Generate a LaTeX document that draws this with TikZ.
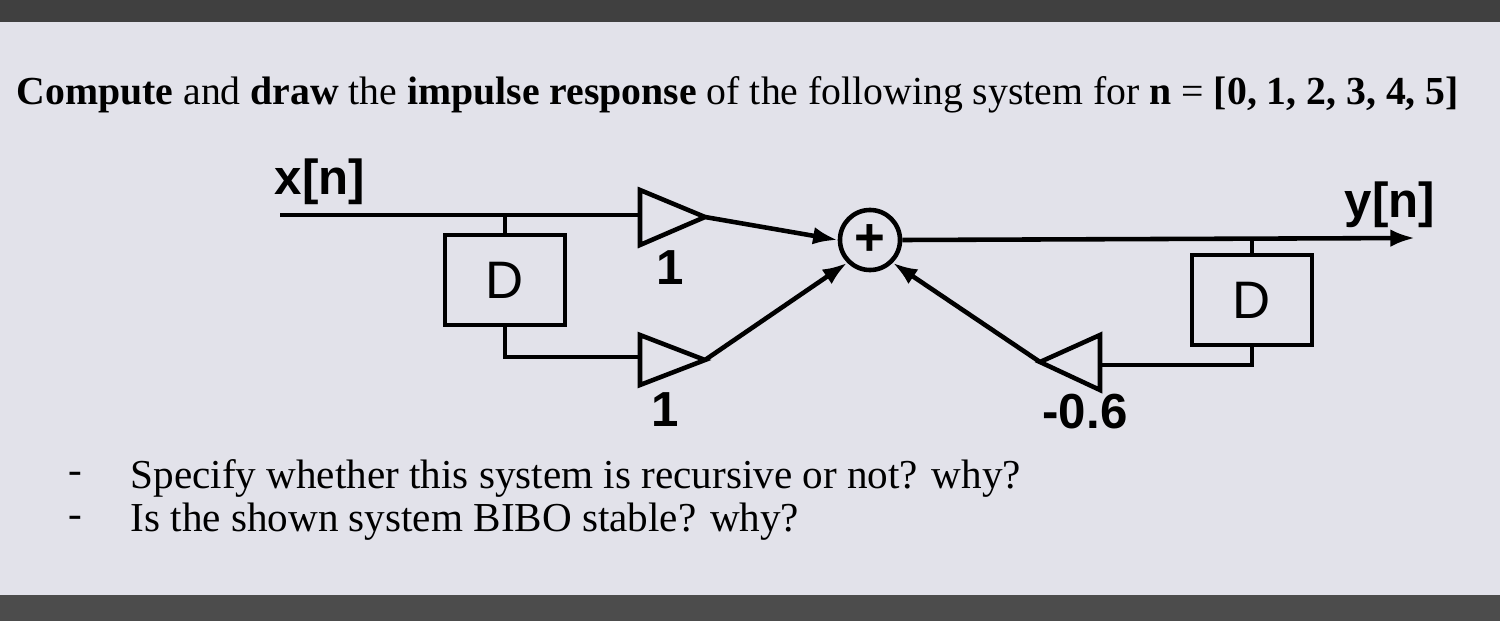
\documentclass[tikz,border=0pt]{standalone}
\usepackage{fontspec}
\setmainfont{Liberation Serif}
\newfontfamily\lsans{Liberation Sans}
\usetikzlibrary{arrows.meta}
\definecolor{bg}{HTML}{E2E2EA}
\begin{document}
\begin{tikzpicture}[x=0.01cm,y=-0.01cm,
  wire/.style={line width=1.3pt,black},
  arr/.style={wire,-{Latex[length=7pt,width=5pt]}},
  gain/.style={wire,fill=none},
  dbox/.style={draw,line width=1.3pt,minimum width=1.2cm,minimum height=0.9cm,font=\lsans\fontsize{15}{17}\selectfont},
  lab/.style={font=\lsans\bfseries\fontsize{14}{16}\selectfont},
  txt/.style={font=\fontsize{11.7}{14}\selectfont,anchor=west,inner sep=0}]
\useasboundingbox (0,0) rectangle (1500,621);
\fill[bg] (0,0) rectangle (1500,621);
\fill[black!75] (0,0) rectangle (1500,22);
\fill[gray!60!black] (0,595) rectangle (1500,621);
% title
\node[txt,font=\fontsize{11.3}{14}\selectfont] (title) at (16,95) {\textbf{Compute} and \textbf{draw} the \textbf{impulse response} of the following system for \textbf{n} = \textbf{[0, 1, 2, 3, 4, 5]}};
% nodes
\coordinate (xin) at (280,215);
\node[lab] (xl) at (320,182) {x[n]};
\node[draw,circle,line width=1.3pt,minimum size=0.6cm,inner sep=0,font=\lsans\bfseries\fontsize{15}{15}\selectfont] (add) at (870,240) {+};
\node[dbox] (d1) at (505,280) {D};
\node[dbox] (d2) at (1252,300) {D};
% gain triangles
\draw[gain] (640,190) -- (705,217) -- (640,245) -- cycle;
\coordinate (g1in) at (640,215); \coordinate (g1out) at (705,217);
\draw[gain] (640,335) -- (705,360) -- (640,385) -- cycle;
\coordinate (g2in) at (640,357); \coordinate (g2out) at (705,360);
\draw[gain] (1100,335) -- (1040,362) -- (1100,390) -- cycle;
\coordinate (g3in) at (1100,365); \coordinate (g3out) at (1040,362);
\node[lab] (l1) at (670,268) {1};
\node[lab] (l2) at (665,410) {1};
\node[lab] (l3) at (1085,412) {-0.6};
% wires
\draw[wire] (xin) -- (g1in);
\draw[arr] (g1out) -- (add.west);
\draw[wire] (505,215) -- (d1.north);
\draw[wire] (d1.south) -- (505,357) -- (g2in);
\draw[arr] (g2out) -- (add.south west);
\coordinate (yout) at (1415,238);
\draw[arr] (add.east) -- (yout);
\node[lab] (yl) at (1390,205) {y[n]};
\draw[wire] (1252,238) -- (d2.north);
\draw[wire] (d2.south) -- (1252,365) -- (g3in);
\draw[arr] (g3out) -- (add.south east);
% bullets
\node[txt] (b1d) at (68,478) {-};
\node[txt] (b1) at (130,478) {Specify whether this system is recursive or not? why?};
\node[txt] (b2d) at (68,522) {-};
\node[txt] (b2) at (130,522) {Is the shown system BIBO stable? why?};
\end{tikzpicture}
\end{document}
